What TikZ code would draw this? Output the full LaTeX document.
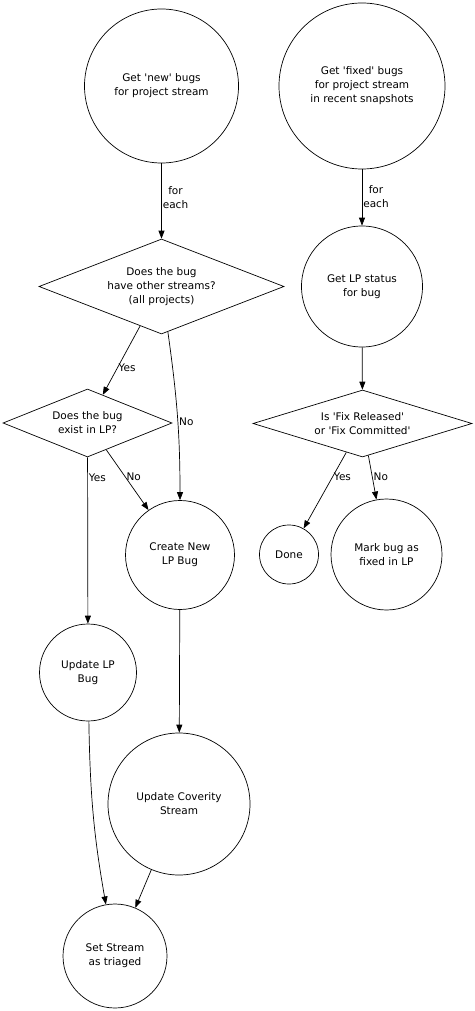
\documentclass[tikz,border=0pt]{standalone}
\usepackage{fontspec}
\usetikzlibrary{shapes,arrows.meta}
\newfontfamily\dotfont{DejaVu Sans}
\newcommand{\dotsize}{\dotfont\fontsize{10.5}{14}\selectfont}
\tikzstyle{state}=[circle,draw,align=center,inner sep=0pt,line width=0.7pt,font=\dotsize]
\tikzstyle{decision}=[diamond,draw,aspect=2.8,align=center,inner sep=0pt,line width=0.7pt,font=\dotsize]
\tikzstyle{edge} = [draw,line width=0.7pt,->,>={Triangle[length=8pt,width=6pt]}]
\tikzstyle{weight} = [font=\dotsize,align=center,inner sep=1pt]

\begin{document}
\begin{tikzpicture}[x=1pt,y=1pt]
  \useasboundingbox (0,0) rectangle (474,-1011);

  % circles
  \foreach \name/\x/\y/\dia/\label in {A/161.5/86/154/{Get \textquotesingle new\textquotesingle{} bugs\\for project stream},
      B/362/86/166/{Get \textquotesingle fixed\textquotesingle{} bugs\\for project stream\\in recent snapshots},
      D/362/286.5/121/{Get LP status\\for bug},
      G/180/555/109/{Create New\\LP Bug},
      H/289/554.5/59/{Done},
      I/386.5/554.5/111/{Mark bug as\\fixed in LP},
      J/88/672.5/97/{Update LP\\Bug},
      K/179/804/142/{Update Coverity\\Stream},
      L/115/956/104/{Set Stream\\as triaged}}
          \node[state, minimum size=\dia pt] (\name) at (\x,-\y) {\label};

  % diamonds
  \foreach \name/\x/\y/\w/\h/\label in {C/161.5/286.5/245/95/{Does the bug\\have other streams?\\(all projects)},
      E/87.5/423/169/68/{Does the bug\\exist in LP?},
      F/362.5/423.5/219/67/{Is \textquotesingle Fix Released\textquotesingle\\or \textquotesingle Fix Committed\textquotesingle}}
          \node[decision, minimum width=\w pt, minimum height=\h pt] (\name) at (\x,-\y) {\label};

  \foreach \source/ \dest /\weight/\where in {A/C/{for\\each}/0.45, B/D/{for\\each}/0.49, C/E/{Yes}/0.61,
      E/J/{Yes}/0.12, E/G/{No}/0.45, F/H/{Yes}/0.32, F/I/{No}/0.49}
         \draw[edge] (\source) -- node[weight, right, pos=\where] {\weight} (\dest);
  \foreach \source/ \dest in {D/F, G/K, K/L}
         \draw[edge] (\source) -- (\dest);

  \draw[edge] (C) to[out=-82, in=90] node[weight, right, pos=0.54] {No} (G);
  \draw[edge] (J) to[out=-89, in=100] (L);

\end{tikzpicture}
\end{document}
